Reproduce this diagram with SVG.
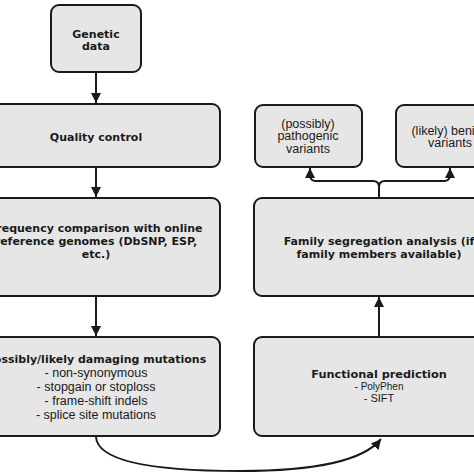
<svg xmlns="http://www.w3.org/2000/svg" width="474" height="474" viewBox="0 0 474 474">
<defs>
<style>
.box{fill:#e6e6e6;stroke:#1a1a1a;stroke-width:2}
.b{font-family:"DejaVu Sans",sans-serif;font-weight:bold;font-size:11px;fill:#1a1a1a;text-anchor:middle}
.r{font-family:"Liberation Sans",Arial,sans-serif;font-size:12.5px;fill:#1a1a1a;text-anchor:middle}
.c{fill:none;stroke:#1a1a1a;stroke-width:2}
</style>
<marker id="ah" viewBox="0 0 10 10" refX="10" refY="5" markerWidth="10" markerHeight="10" markerUnits="userSpaceOnUse" orient="auto">
<path d="M0,0 L10,5 L0,10 Z" fill="#1a1a1a"/>
</marker>
</defs>
<rect width="474" height="474" fill="#ffffff"/>
<g id="connectors">
<path class="c" d="M96,72 V103" marker-end="url(#ah)"/>
<path class="c" d="M96,167 V197" marker-end="url(#ah)"/>
<path class="c" d="M96,296 V336" marker-end="url(#ah)"/>
<path class="c" d="M379,337 V297" marker-end="url(#ah)"/>
<path class="c" d="M379,198 V187 Q379,181 373,181 H316 Q310,181 310,175 V168" marker-end="url(#ah)"/>
<path class="c" d="M379,187 Q379,181 385,181 H444 Q450,181 450,175 V168" marker-end="url(#ah)"/>
<path class="c" d="M96,437 C98,468 190,471 240,471 C300,471 360,465 381,439" marker-end="url(#ah)"/>
</g>
<g id="genetic">
<rect class="box" x="51" y="5" width="90" height="67" rx="8"/>
<text class="b" x="96" y="38">Genetic</text>
<text class="b" x="96" y="50">data</text>
</g>
<g id="quality">
<rect class="box" x="-28" y="104" width="248" height="63" rx="8"/>
<text class="b" x="96" y="141">Quality control</text>
</g>
<g id="frequency">
<rect class="box" x="-28" y="198" width="248" height="98" rx="8"/>
<text class="b" x="96" y="232">Frequency comparison with online</text>
<text class="b" x="96" y="245">reference genomes (DbSNP, ESP,</text>
<text class="b" x="96" y="258">etc.)</text>
</g>
<g id="mutations">
<rect class="box" x="-28" y="337" width="248" height="99" rx="8"/>
<text class="b" x="96" y="363">Possibly/likely damaging mutations</text>
<text class="r" x="96" y="377">- non-synonymous</text>
<text class="r" x="96" y="391">- stopgain or stoploss</text>
<text class="r" x="96" y="405">- frame-shift indels</text>
<text class="r" x="96" y="419">- splice site mutations</text>
</g>
<g id="pathogenic">
<rect class="box" x="255" y="105" width="107" height="62" rx="8"/>
<text class="r" x="308" y="128">(possibly)</text>
<text class="r" x="308" y="140">pathogenic</text>
<text class="r" x="308" y="153">variants</text>
</g>
<g id="benign">
<rect class="box" x="396" y="105" width="108" height="62" rx="8"/>
<text class="r" x="450" y="135">(likely) benign</text>
<text class="r" x="450" y="147">variants</text>
</g>
<g id="family">
<rect class="box" x="254" y="198" width="250" height="98" rx="8"/>
<text class="b" x="379" y="245">Family segregation analysis (if</text>
<text class="b" x="379" y="258">family members available)</text>
</g>
<g id="functional">
<rect class="box" x="254" y="337" width="250" height="99" rx="8"/>
<text class="b" x="379" y="378" style="font-size:11.3px">Functional prediction</text>
<text class="r" x="379" y="390" style="font-size:10px">- PolyPhen</text>
<text class="r" x="379" y="402" style="font-size:11px">- SIFT</text>
</g>
</svg>
